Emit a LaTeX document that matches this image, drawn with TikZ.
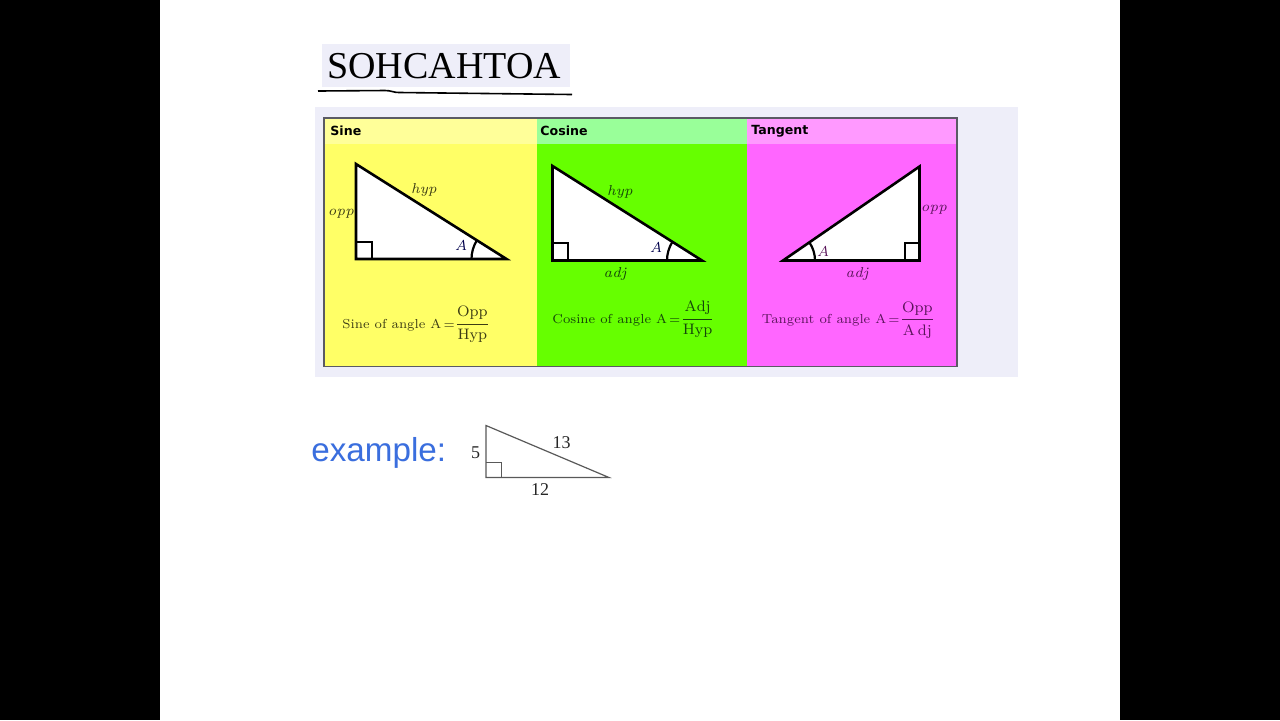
\documentclass[tikz,border=0pt]{standalone}
\usepackage{fontspec}
\newfontfamily\titlefont{Liberation Serif}
\newfontfamily\headfont{DejaVu Sans}
\newfontfamily\exfont{Liberation Sans}
\definecolor{lav}{RGB}{238,238,249}
\definecolor{ybody}{RGB}{255,255,102}
\definecolor{yhead}{RGB}{255,255,153}
\definecolor{gbody}{RGB}{102,255,0}
\definecolor{ghead}{RGB}{153,255,153}
\definecolor{mbody}{RGB}{255,102,255}
\definecolor{mhead}{RGB}{255,153,255}
\definecolor{ytext}{RGB}{60,60,20}
\definecolor{gtext}{RGB}{20,70,10}
\definecolor{mtext}{RGB}{90,20,90}
\definecolor{exblue}{RGB}{58,110,222}
\definecolor{tborder}{RGB}{90,90,100}
\newcommand{\myfrac}[2]{{\fontsize{7.6}{9}\selectfont$\displaystyle\frac{\mathrm{#1}}{\mathrm{#2}}$}}
\begin{document}
\begin{tikzpicture}[x=0.5pt,y=-0.5pt,
  tri/.style={draw=black,fill=white,line width=1.3pt,line join=miter},
  sq/.style={draw=black,line width=1.1pt},
  ang/.style={draw=black,line width=1.1pt},
  head/.style={anchor=west,inner sep=0pt,font=\headfont\bfseries\fontsize{6.3}{7}\selectfont},
  lab/.style={inner sep=0pt,font=\fontsize{7.2}{8.5}\selectfont\itshape},
  formula/.style={anchor=base west,inner sep=0pt,font=\fontsize{6.5}{8}\selectfont},
  num/.style={inner sep=0pt,font=\titlefont\fontsize{9}{10}\selectfont,text=black!85}]
\useasboundingbox (0,0) rectangle (1280,720);
\fill[black] (0,0) rectangle (1280,720);
\fill[white] (160,0) rectangle (1120,720);
% title
\fill[lav] (322,44) rectangle (570,87);
\node[anchor=base west,inner sep=0pt,font=\titlefont\fontsize{19}{22}\selectfont] (title) at (327,78.5) {SOHCAHTOA};
\draw[line width=0.8pt] (318,91) -- (385,90.5) .. controls (392,90.5) and (392,92.5) .. (400,92.5) -- (572,94.5);
% panel
\fill[lav] (315,107) rectangle (1018,377);
% table columns
\fill[ybody] (324,118) rectangle (536.5,366.5);
\fill[gbody] (536.5,118) rectangle (746.5,366.5);
\fill[mbody] (746.5,118) rectangle (957,366.5);
\fill[yhead] (324,118) rectangle (536.5,144);
\fill[ghead] (536.5,118) rectangle (746.5,144);
\fill[mhead] (746.5,118) rectangle (957,144);
\draw[tborder,line width=0.6pt] (324,118) rectangle (957,366.5);
\node[head] (hs) at (330,131) {Sine};
\node[head] (hc) at (540,131) {Cosine};
\node[head] (ht) at (751,131) {Tangent};
% sine triangle
\coordinate (s1) at (356,164);
\coordinate (s2) at (356,259);
\coordinate (s3) at (506.5,259);
\draw[tri] (s1) -- (s2) -- (s3) -- cycle;
\draw[sq] (356,242) -- (372,242) -- (372,259);
\draw[ang] (s3) ++(-35,0) arc[start angle=180,end angle=212.3,radius=35];
\node[lab,text=ytext] (so) at (341,214) {opp};
\node[lab,text=ytext] (sh) at (424,190) {hyp};
\node[lab,text=black!70!blue] (sa) at (461,245) {A};
\node[formula,text=ytext] (sf) at (342,328) {Sine of angle A\,$=$\myfrac{Opp}{Hyp}};
% cosine triangle
\coordinate (c1) at (552.5,166);
\coordinate (c2) at (552.5,260.5);
\coordinate (c3) at (702,260.5);
\draw[tri] (c1) -- (c2) -- (c3) -- cycle;
\draw[sq] (552.5,243) -- (568,243) -- (568,260.5);
\draw[ang] (c3) ++(-35,0) arc[start angle=180,end angle=212.3,radius=35];
\node[lab,text=gtext] (ch) at (620,192) {hyp};
\node[lab,text=black!70!blue] (ca) at (656,247) {A};
\node[lab,text=gtext] (cj) at (615,274) {adj};
\node[formula,text=gtext] (cf) at (552,323) {Cosine of angle A\,$=$\myfrac{Adj}{Hyp}};
% tangent triangle
\coordinate (t1) at (783,260.5);
\coordinate (t2) at (919.5,166.5);
\coordinate (t3) at (919.5,260.5);
\draw[tri] (t1) -- (t2) -- (t3) -- cycle;
\draw[sq] (905,260.5) -- (905,243) -- (919.5,243);
\draw[ang] (t1) ++(32,0) arc[start angle=0,end angle=-34.5,radius=32];
\node[lab,text=mtext] (ta) at (823,251) {A};
\node[lab,text=mtext] (to) at (934,210) {opp};
\node[lab,text=mtext] (tj) at (857,274) {adj};
\node[formula,text=mtext] (tf) at (761.5,323.5) {Tangent of angle A\,$=$\myfrac{Opp}{A\,dj}};
% example
\node[anchor=base west,inner sep=0pt,text=exblue,font=\exfont\fontsize{16.6}{19}\selectfont] (ex) at (311,461) {example:};
\coordinate (e1) at (486,425.5);
\coordinate (e2) at (486,477.5);
\coordinate (e3) at (609,477.5);
\draw[black!65,line width=0.6pt] (e1) -- (e2) -- (e3) -- cycle;
\draw[black!65,line width=0.6pt] (486,462.5) -- (501.5,462.5) -- (501.5,477.5);
\node[num] (n5) at (475.5,453) {5};
\node[num] (n13) at (561.5,442.5) {13};
\node[num] (n12) at (540,490) {12};
\end{tikzpicture}
\end{document}
